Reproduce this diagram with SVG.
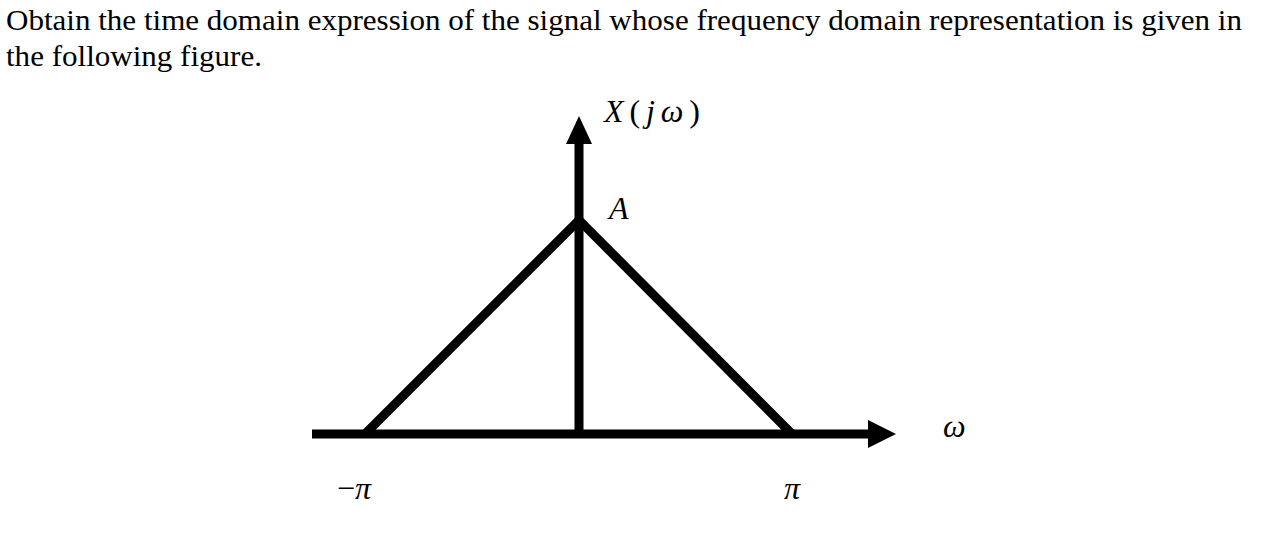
<svg xmlns="http://www.w3.org/2000/svg" width="1264" height="552" viewBox="0 0 1264 552">
<style>
.t{font-family:"Liberation Serif","Times New Roman",serif;font-size:30px;fill:#000}
.m{font-family:"Liberation Serif","Times New Roman",serif;font-size:32px;font-style:italic;fill:#000}
.ln{stroke:#000;stroke-width:9;fill:none}
</style>
<rect width="1264" height="552" fill="#fff"/>
<text class="t" x="6" y="30" textLength="1236" lengthAdjust="spacingAndGlyphs">Obtain the time domain expression of the signal whose frequency domain representation is given in</text>
<text class="t" x="6" y="66" textLength="256" lengthAdjust="spacingAndGlyphs">the following figure.</text>
<g id="connectors">
<line class="ln" x1="312" y1="434" x2="870" y2="434"/>
<polygon points="868,420 896,434 868,448" fill="#000"/>
<line class="ln" x1="579" y1="434" x2="579" y2="142"/>
<polygon points="566,144 579,116 592,144" fill="#000"/>
<polyline class="ln" points="365,434 579,220 792,434" stroke-linejoin="miter"/>
</g>
<g id="labels">
<text class="m" x="604" y="122" textLength="96">X<tspan font-style="normal">(</tspan>jω<tspan font-style="normal">)</tspan></text>
<text class="m" x="609" y="219">A</text>
<text class="m" x="943" y="437">ω</text>
<text class="m" x="337" y="499"><tspan font-style="normal">−</tspan>π</text>
<text class="m" x="784" y="499">π</text>
</g>
</svg>
